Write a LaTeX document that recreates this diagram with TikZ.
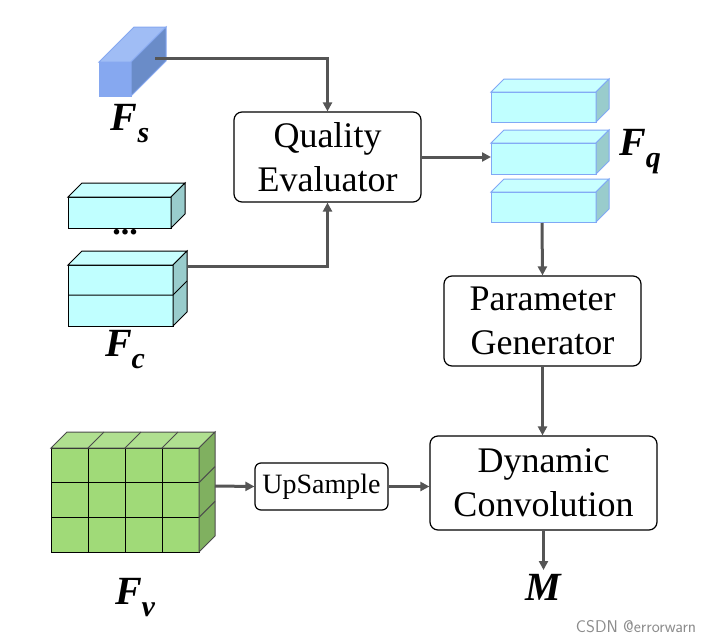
\documentclass[tikz,border=0pt]{standalone}
\usepackage{fontspec}
\setmainfont{Liberation Serif}
\usetikzlibrary{arrows.meta}
\definecolor{cy}{HTML}{C0FFFF}\definecolor{cyT}{HTML}{C8FFFF}\definecolor{cyS}{HTML}{99CCCC}
\definecolor{bl}{HTML}{86A8F0}\definecolor{blT}{HTML}{A0BDF5}\definecolor{blS}{HTML}{6A8CC8}
\definecolor{gr}{HTML}{A0DA78}\definecolor{grT}{HTML}{B0E090}\definecolor{grS}{HTML}{80B060}
\definecolor{qb}{HTML}{80A8F5}\definecolor{ar}{HTML}{555555}
% x y w h d front top side border
\newcommand{\mycuboid}[9]{%
 \filldraw[fill=#6,draw=#9] (#1,#2) rectangle ++(#3,#4);
 \filldraw[fill=#7,draw=#9] (#1,#2) -- ++(#5,-#5) -- ++(#3,0) -- ++(-#5,#5) -- cycle;
 \filldraw[fill=#8,draw=#9] (#1+#3,#2) -- ++(#5,-#5) -- ++(0,#4) -- ++(-#5,#5) -- cycle;}
\tikzset{
 arr/.style={draw=ar,line width=3pt,-{Triangle[length=9pt,width=9pt]}},
 blk/.style={draw=black,rounded corners=8pt,line width=1.2pt,align=center,font=\fontsize{36}{44}\selectfont,inner sep=0pt},
 lbl/.style={font=\fontsize{40}{44}\selectfont\bfseries\itshape}
}
\newcommand{\lab}[2]{F\raisebox{-0.3em}{\fontsize{30}{30}\selectfont #2}}
\begin{document}
\begin{tikzpicture}[x=1pt,y=-1pt,line width=1pt]
\useasboundingbox (0,0) rectangle (705,643);
% Fs
\mycuboid{99}{62}{32}{34}{35}{bl}{blT}{blS}{bl}
\node[lbl] (fs) at (130,124) {\lab{}{s}};
% Fc
\mycuboid{68}{197}{103}{31}{14}{cy}{cyT}{cyS}{black}
\node[font=\fontsize{34}{34}\selectfont\bfseries] (dots) at (125,232) {...};
\mycuboid{68}{265}{105}{61}{14}{cy}{cyT}{cyS}{black}
\draw (68,295) -- (173,295) -- (187,281);
\node[lbl] (fc) at (125,350) {\lab{}{c}};
% Fq
\mycuboid{491}{92}{105}{30}{13}{cy}{cyT}{cyS}{qb}
\mycuboid{491}{143}{105}{31}{13}{cy}{cyT}{cyS}{qb}
\mycuboid{491}{192}{105}{30}{13}{cy}{cyT}{cyS}{qb}
\node[lbl] (fq) at (640,152) {\lab{}{q}};
% Fv
\fill[gr] (51,448) rectangle (199,552);
\foreach \i in {0,...,3} \foreach \j in {0,...,2}
 \draw[black] (51+\i*37,448+\j*34.7) rectangle ++(37,34.7);
\filldraw[fill=grT,draw=black!70] (51,448) -- ++(16,-16) -- ++(148,0) -- ++(-16,16) -- cycle;
\filldraw[fill=grS,draw=black!70] (199,448) -- ++(16,-16) -- ++(0,104) -- ++(-16,16) -- cycle;
\foreach \i in {1,2,3} \draw[black!70] (51+\i*37,448) -- ++(16,-16);
\foreach \j in {1,2} \draw[black!70] (199,448+\j*34.7) -- ++(16,-16);
\node[lbl] (fv) at (135,598) {\lab{}{v}};
% boxes
\node[blk,minimum width=187pt,minimum height=90pt] (qe) at (327.5,157) {Quality\\Evaluator};
\node[blk,minimum width=197pt,minimum height=90pt] (pg) at (542.5,321) {Parameter\\Generator};
\node[blk,minimum width=227pt,minimum height=94pt] (dc) at (543.5,483) {Dynamic\\Convolution};
\node[blk,rounded corners=6pt,minimum width=133pt,minimum height=47pt,font=\fontsize{28}{32}\selectfont] (up) at (321.5,486.5) {UpSample};
\node[lbl,anchor=north] (m) at (543.5,570) {M};
% coordinates
\coordinate (fsO) at (155,58);
\coordinate (fcO) at (187,266);
\coordinate (fqI) at (491,157);
\coordinate (fqO) at (542,223);
\coordinate (fvO) at (215,486);
% arrows
\draw[arr] (fsO) -| (qe.north);
\draw[arr] (fcO) -| (qe.south);
\draw[arr] (qe.east |- fqI) -- (fqI);
\draw[arr] (fqO) -- (pg.north);
\draw[arr] (pg.south) -- (pg.south |- dc.north);
\draw[arr] (fvO) -- (up.west);
\draw[arr] (up.east) -- (dc.west |- up.east);
\draw[arr] (dc.south) -- (m.north);
\node[text=black!45,font=\fontsize{17}{20}\selectfont\sffamily,anchor=east] (wm) at (700,627) {CSDN @errorwarn};
\end{tikzpicture}
\end{document}
